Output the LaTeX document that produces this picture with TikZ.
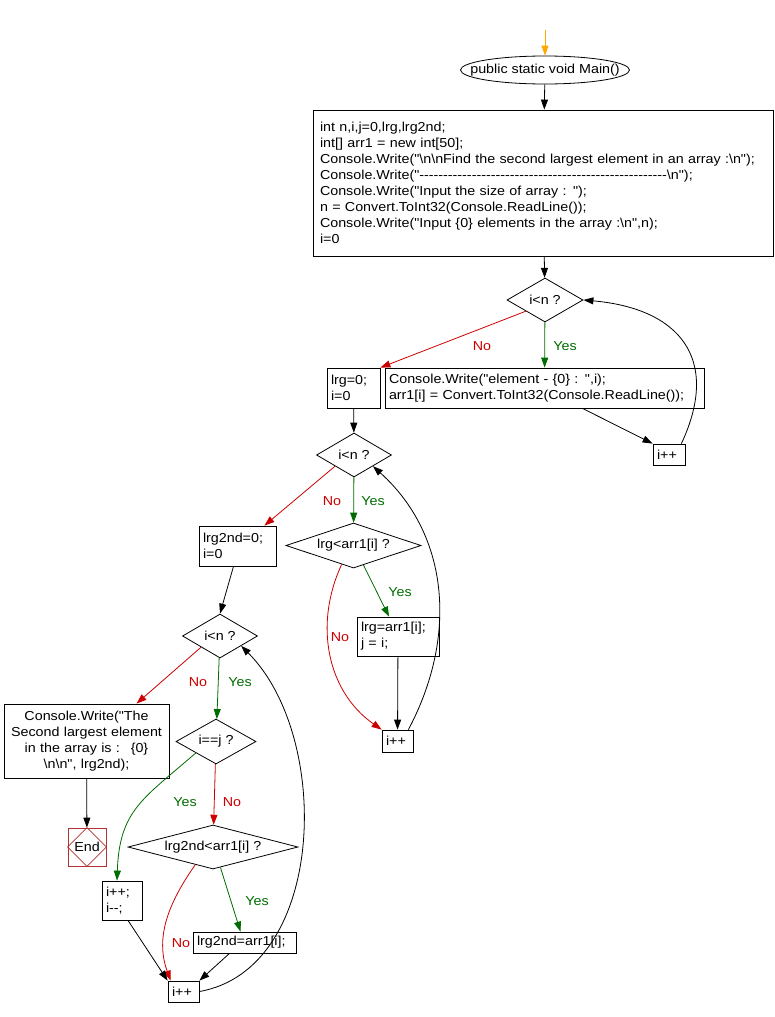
\documentclass[tikz,border=0pt]{standalone}
\usepackage{fontspec}
\setmainfont{Liberation Sans}[Ligatures=TeXOff,FakeStretch=1.1]
\usetikzlibrary{shapes.geometric,arrows.meta}
\newcommand{\bs}{\textbackslash}

\begin{document}
\begin{tikzpicture}[x=1pt,y=-1pt,
  font=\fontsize{13}{16}\selectfont,
  line width=0.8pt,
  >={Triangle[length=10pt,width=7pt]},
  box/.style={draw,rectangle,inner xsep=4pt,inner ysep=0pt,align=left},
  cond/.style={draw,diamond,aspect=3.5,inner sep=0pt},
  flow/.style={->,black},
  yes/.style={->,kGreen},
  no/.style={->,kRed},
  yeslbl/.style={text=kGreen,inner sep=0pt},
  nolbl/.style={text=kRed,inner sep=0pt}]
  \definecolor{kRed}{rgb}{0.8,0,0}
  \definecolor{kGreen}{rgb}{0,0.42,0}
  \definecolor{kOrange}{rgb}{1,0.65,0}
  \definecolor{kBrown}{rgb}{0.7,0.2,0.2}

  \useasboundingbox (0,0) rectangle (774,1017);

  % start
  \coordinate (start) at (545,30);
  \node[draw,ellipse,minimum width=169pt,minimum height=28pt,inner sep=0pt] (main) at (545,70)
    {\makebox[0pt]{public static void Main()}};
  \node[box,inner xsep=7pt,text width=446pt,minimum height=146pt] (init) at (543,183)
    {int n,i,j=0,lrg,lrg2nd;\\
     int[] arr1 = new int[50];\\
     Console.Write("\bs n\bs nFind the second largest element in an array :\bs n");\\
     Console.Write("----------------------------------------------------\bs n");\\
     Console.Write("Input the size of array : ");\\
     n = Convert.ToInt32(Console.ReadLine());\\
     Console.Write("Input \{0\} elements in the array :\bs n",n);\\
     i=0};

  % first loop - reading
  \node[cond,minimum width=76pt,minimum height=44pt] (c1) at (545,300) {i<n ?};
  \node[box,text width=45pt,minimum height=40pt] (lrg0) at (353.5,388) {lrg=0;\\ i=0};
  \node[box,text width=311pt,minimum height=40pt] (read) at (544.5,388)
    {Console.Write("element - \{0\} : ",i);\\
     arr1[i] = Convert.ToInt32(Console.ReadLine());};
  \node[box,text width=24pt,minimum height=21pt] (inc1) at (669,454.5) {i++};

  % second loop - largest
  \node[cond,minimum width=75pt,minimum height=44pt] (c2) at (354,455) {i<n ?};
  \node[cond,minimum width=135pt,minimum height=45pt] (c3) at (353.5,545.5) {lrg<arr1[i] ?};
  \node[box,text width=74pt,minimum height=39pt] (lrgarr) at (398,636.5) {lrg=arr1[i];\\ j = i;};
  \node[box,text width=23pt,minimum height=22pt] (inc2) at (397.5,741) {i++};
  \node[box,text width=69pt,minimum height=40pt] (lrg2nd0) at (237.5,546) {lrg2nd=0;\\ i=0};

  % third loop - second largest
  \node[cond,minimum width=75pt,minimum height=44pt] (c4) at (220,636) {i<n ?};
  \node[box,align=center,text width=157pt,minimum height=74pt] (print) at (86.5,741)
    {Console.Write("The\\ Second largest element\\ in the array is : \ \{0\}\\ \bs n\bs n", lrg2nd);};
  \node[draw=kBrown,minimum width=38pt,minimum height=38pt,inner sep=0pt] (end) at (87,847) {End};
  \draw[kBrown] (end.north) -- (end.west) -- (end.south) -- (end.east) -- cycle;
  \node[cond,minimum width=80pt,minimum height=45pt] (c5) at (216,741.5) {i==j ?};
  \node[cond,minimum width=170pt,minimum height=44pt] (c6) at (213,847) {lrg2nd<arr1[i] ?};
  \node[box,text width=32pt,minimum height=39pt] (incdec) at (122,900.5) {i++;\\ i--;};
  \node[box,text width=95pt,minimum height=21pt] (lrg2ndarr) at (244.5,942.5) {lrg2nd=arr1[i];};
  \node[box,text width=23pt,minimum height=21pt] (inc3) at (183.5,991.5) {i++};

  % labels
  \node[nolbl] (no1) at (482,346) {No};
  \node[yeslbl] (yes1) at (565,346) {Yes};
  \node[nolbl] (no2) at (332,501) {No};
  \node[yeslbl] (yes2) at (373,501) {Yes};
  \node[yeslbl] (yes3) at (400,592) {Yes};
  \node[nolbl] (no3) at (340,637) {No};
  \node[nolbl] (no4) at (198,682) {No};
  \node[yeslbl] (yes4) at (240,682) {Yes};
  \node[yeslbl] (yes5) at (185,802) {Yes};
  \node[nolbl] (no5) at (232,802) {No};
  \node[yeslbl] (yes6) at (257,901) {Yes};
  \node[nolbl] (no6) at (181,943) {No};

  % connectors
  \draw[->,kOrange] (start) -- (main);
  \draw[flow] (main) -- (init);
  \draw[flow] (init) -- (c1);
  \draw[no] (c1.south west) -- (lrg0.north east);
  \draw[yes] (c1) -- (read);
  \draw[flow] ([xshift=38pt]read.south) -- (inc1.north west);
  \draw[flow] ([xshift=-4pt]inc1.north east) to[out=65,in=-5,looseness=1.4] (c1.east);

  \draw[flow] (lrg0) -- (c2);
  \draw[no] (c2.south west) -- ([xshift=-12pt]lrg2nd0.north east);
  \draw[yes] (c2) -- (c3);
  \draw[yes] (c3.297) -- ([xshift=-9pt]lrgarr.north);
  \draw[no] (c3.238) to[out=245,in=145] (inc2.north west);
  \draw[flow] (lrgarr) -- (inc2);
  \draw[flow] ([xshift=-5pt]inc2.north east) to[out=62,in=-42] (c2.south east);

  \draw[flow] ([xshift=-4pt]lrg2nd0.south) -- (c4.north);
  \draw[no] (c4.south west) -- ([xshift=50pt]print.north);
  \draw[yes] (c4) -- (c5);
  \draw[flow] (print) -- (end);
  \draw[yes] (c5.south west) to[out=221,in=88,looseness=1.2] ([xshift=-5pt]incdec.north);
  \draw[no] (c5) -- (c6);
  \draw[yes] (c6.290) -- ([xshift=-4pt]lrg2ndarr.north);
  \draw[no] (c6.225) to[out=235,in=110] ([xshift=3pt]inc3.north west);
  \draw[flow] ([xshift=6pt]incdec.south) -- (inc3.north west);
  \draw[flow] ([xshift=-15pt]lrg2ndarr.south) -- (inc3.north east);
  \draw[flow] (inc3.east) to[out=10,in=-45,looseness=0.95] (c4.335);

\end{tikzpicture}
\end{document}
